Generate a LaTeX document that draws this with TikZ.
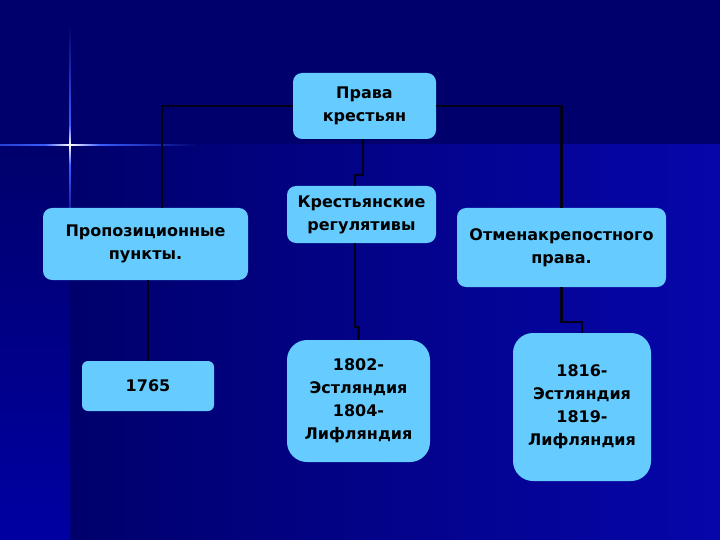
\documentclass[tikz,border=0pt]{standalone}
\usepackage{fontspec}
\setmainfont{DejaVu Sans}

\definecolor{pknavy}{HTML}{00006C}
\definecolor{pkbright}{HTML}{0606AA}
\definecolor{pkleft}{HTML}{0000A2}
\definecolor{pkfill}{HTML}{66CCFF}
\definecolor{pkglow}{HTML}{3A5CFF}

\tikzset{
  pkbox/.style={rectangle, fill=pkfill, align=center, inner sep=0pt,
    font=\bfseries\fontsize{16}{23}\selectfont, rounded corners=#1},
  pkbox/.default=9pt,
  pkedge/.style={line width=2.2pt, draw=black!90!blue}
}

\begin{document}
\begin{tikzpicture}[x=1pt, y=-1pt]
\useasboundingbox (0,0) rectangle (720,540);

% background
\fill[pknavy] (0,0) rectangle (720,540);
\shade[left color=pknavy, right color=pkbright] (70,145) rectangle (720,540);
\shade[top color=pknavy, bottom color=pkleft] (0,145) rectangle (70,540);

% star
\shade[top color=pknavy, bottom color=pkglow] (69.2,25) rectangle (70.8,125);
\shade[top color=pkglow, bottom color=white] (69.2,125) rectangle (70.8,145);
\shade[top color=white, bottom color=pkglow] (69.2,145) rectangle (70.8,165);
\shade[top color=pkglow, bottom color=pknavy] (69.2,165) rectangle (70.8,235);
\shade[left color=pkglow!70!pknavy, right color=pkglow] (0,144.2) rectangle (45,145.8);
\shade[left color=pkglow, right color=white] (45,144.2) rectangle (70,145.8);
\shade[left color=white, right color=pkglow] (70,144.2) rectangle (100,145.8);
\shade[left color=pkglow, right color=pknavy] (100,144.2) rectangle (200,145.8);

\node[pkbox, minimum width=143pt, minimum height=66pt] (prava) at (364.5,106) {Права\\крестьян};
\node[pkbox, minimum width=205pt, minimum height=72pt] (propoz) at (145.5,244) {Пропозиционные\\пункты.};
\node[pkbox, minimum width=149pt, minimum height=57pt] (kreg) at (361.5,214.5) {Крестьянские\\регулятивы};
\node[pkbox, minimum width=209pt, minimum height=79pt] (otmena) at (561.5,247.5) {Отменакрепостного\\права.};

\node[pkbox=6pt, minimum width=132pt, minimum height=50pt] (y1765) at (148,386) {1765};
\node[pkbox=20pt, minimum width=143pt, minimum height=122pt] (y1802) at (358.5,401) {1802-\\Эстляндия\\1804-\\Лифляндия};
\node[pkbox=20pt, minimum width=138pt, minimum height=148pt] (y1816) at (582,407) {1816-\\Эстляндия\\1819-\\Лифляндия};

\draw[pkedge] (prava.west) -| ([xshift=16.5pt]propoz.north);
\draw[pkedge] (prava.east) -| (otmena.north);
\draw[pkedge] ([xshift=-1.5pt]prava.south) -- ++(0,36) -| ([xshift=-6.5pt]kreg.north);
\draw[pkedge] ([xshift=-6.5pt]kreg.south) -- ++(0,84) -| (y1802.north);
\draw[pkedge] (y1765.north |- propoz.south) -- (y1765.north);
\draw[pkedge] (otmena.south) -- ++(0,35) -| (y1816.north);
\end{tikzpicture}
\end{document}
